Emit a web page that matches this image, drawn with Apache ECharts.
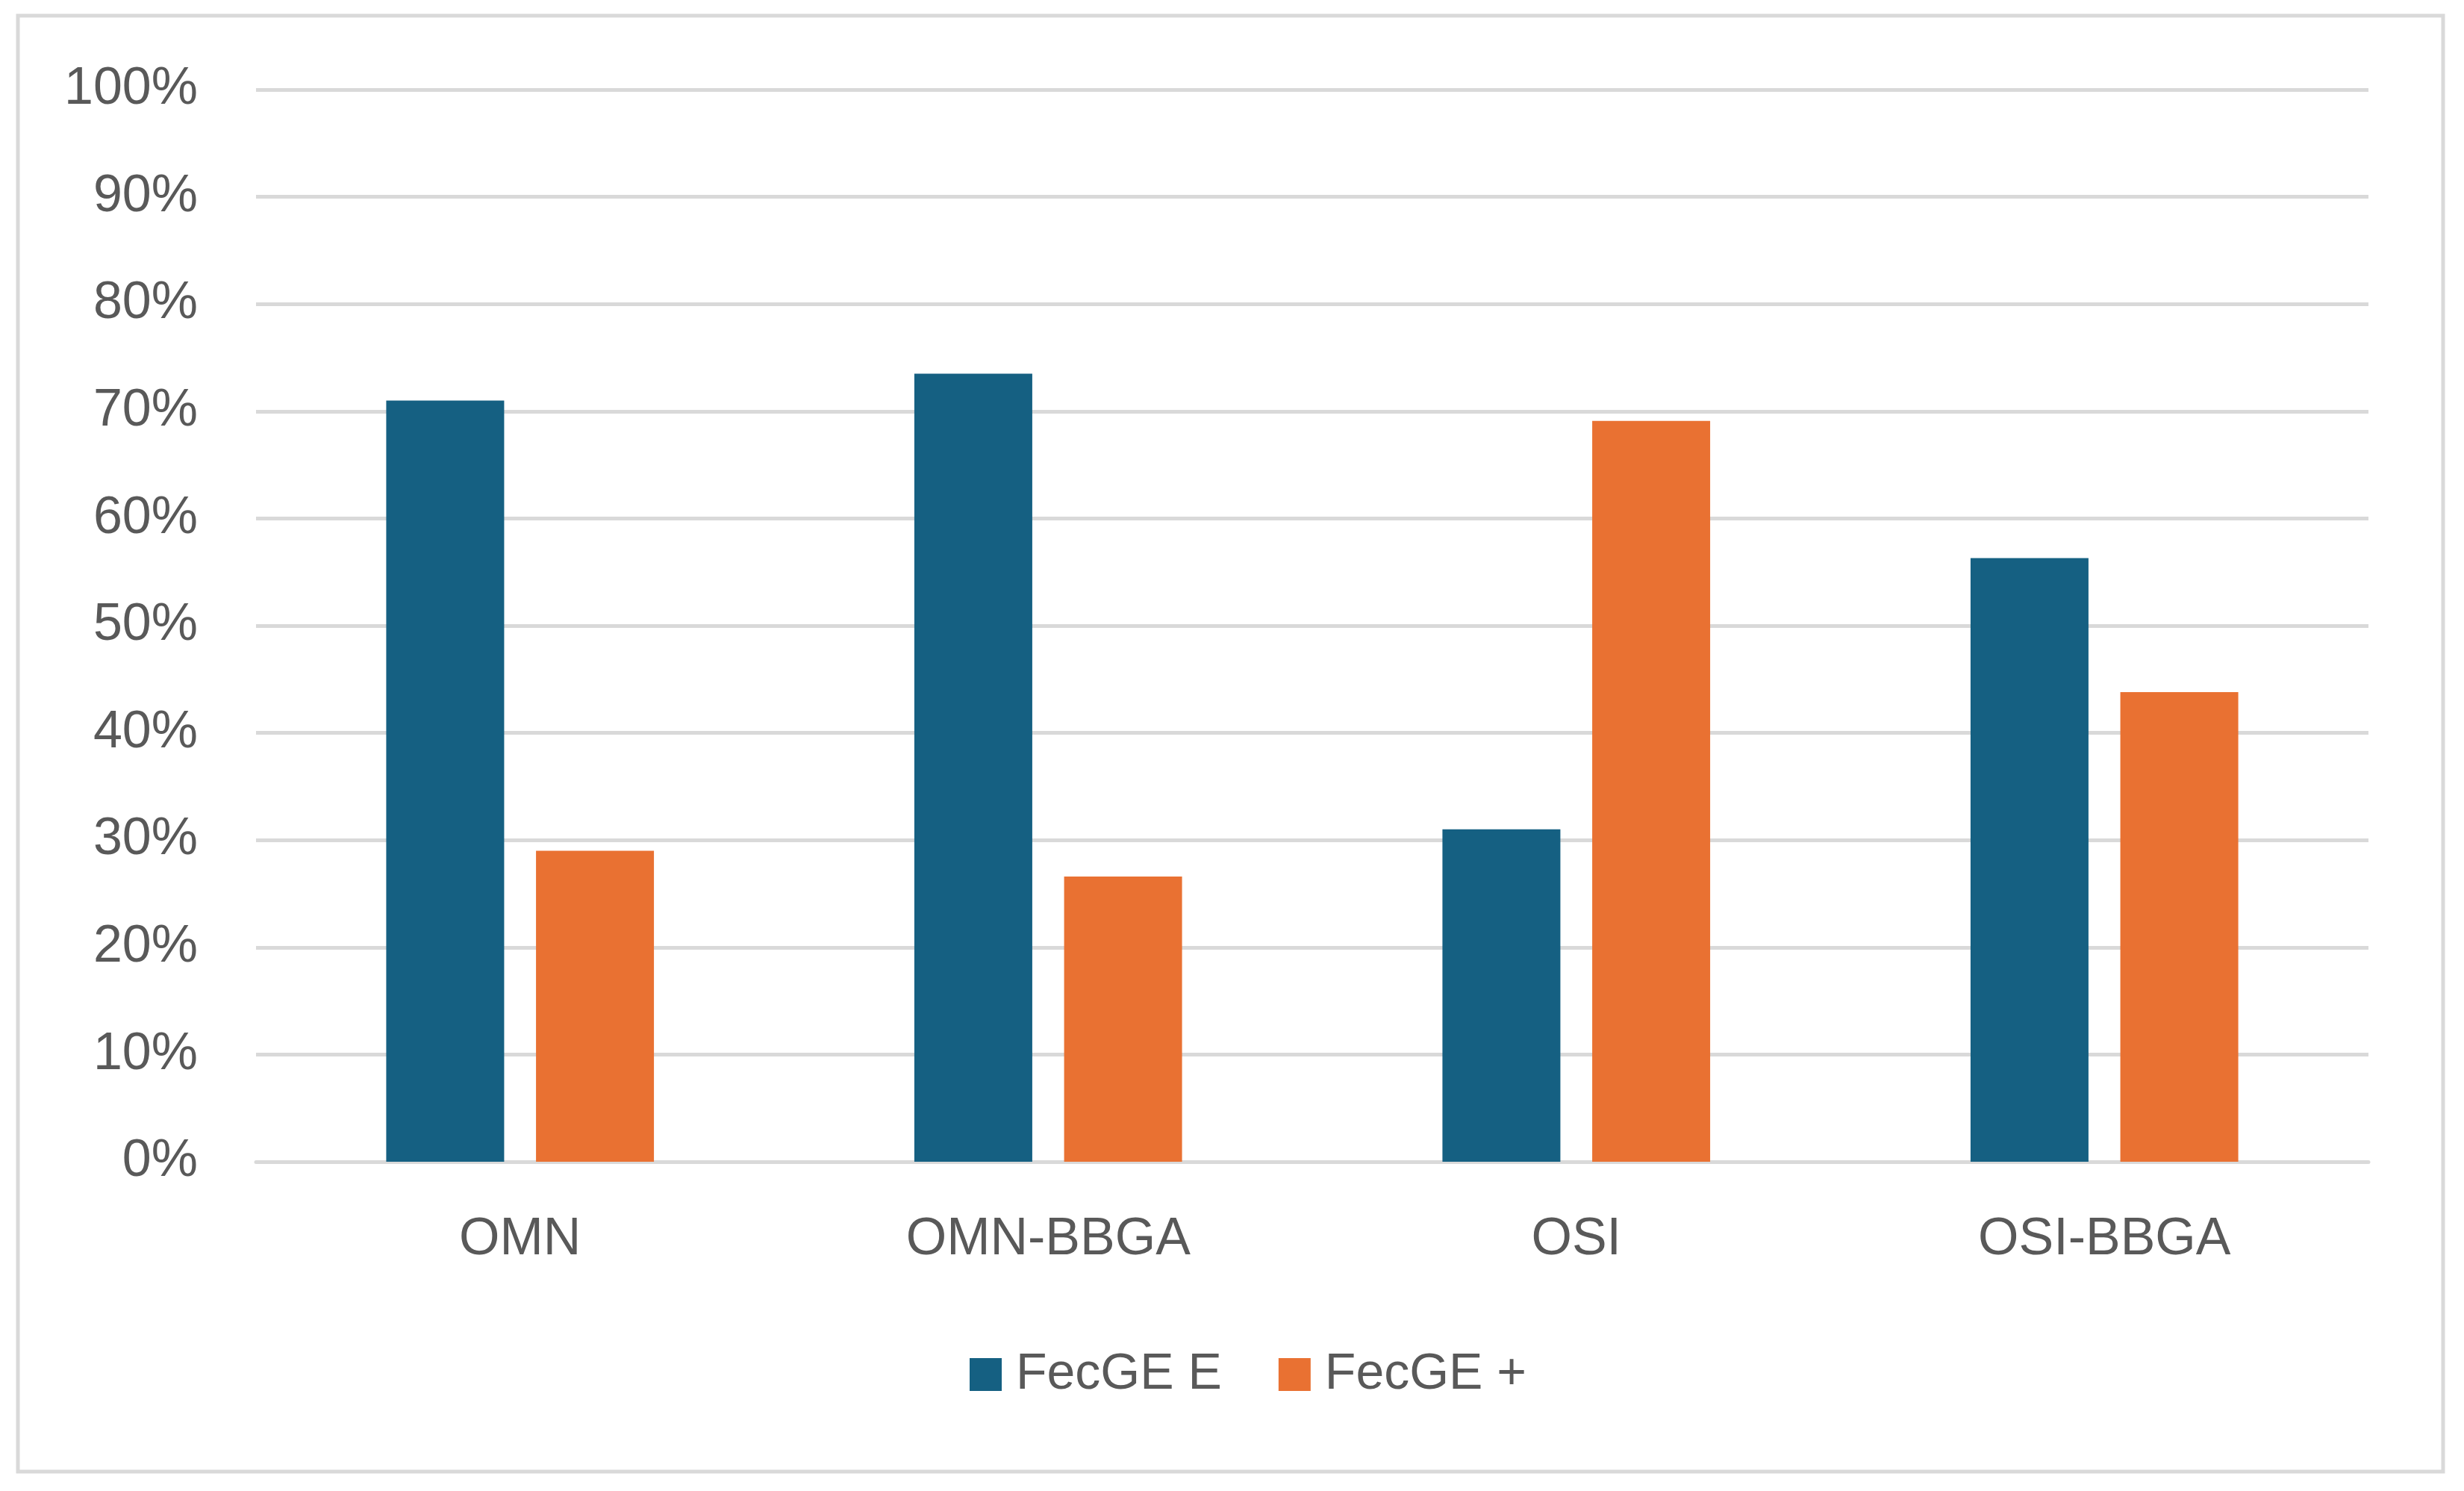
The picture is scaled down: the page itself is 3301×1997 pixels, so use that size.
<!DOCTYPE html>
<html>
<head>
<meta charset="utf-8">
<script src="https://cdn.jsdelivr.net/npm/echarts@6/dist/echarts.min.js"></script>
<style>
  html, body { margin: 0; padding: 0; background: #fff; }
  #main { width: 3301px; height: 1997px; }
</style>
</head>
<body>
<div id="main"></div>
<script>
  var categories = ["OMN", "OMN-BBGA", "OSI", "OSI-BBGA"];
  var seriesNames = ["FecGE E", "FecGE +"];
  var fecgeE = [71.0, 73.5, 31.0, 56.3];
  var fecgePlus = [29.0, 26.6, 69.1, 43.8];
  var yTicks = [0, 10, 20, 30, 40, 50, 60, 70, 80, 90, 100];

  var colors = ["#156082", "#E97132"];
  var textColor = "#595959";
  var gridColor = "#d9d9d9";
  var font = "'Liberation Sans', Arial, sans-serif";

  var mychart = echarts.init(document.getElementById("main"));

  var option = {
    backgroundColor: "#fff",
    animation: false,
    color: colors,
    graphic: [
      {
        type: "rect",
        shape: { x: 24, y: 21, width: 3249, height: 1950 },
        style: { fill: "none", stroke: gridColor, lineWidth: 5 }
      }
    ],
    grid: {
      left: 343,
      right: 128,
      top: 120,
      bottom: 441,
      containLabel: false
    },
    legend: {
      data: seriesNames,
      icon: "rect",
      left: 1294,
      top: 1802,
      itemWidth: 43,
      itemHeight: 44,
      itemGap: 76,
      textStyle: {
        color: textColor,
        fontSize: 68,
        fontFamily: font,
        padding: [0, 0, 0, 14]
      }
    },
    xAxis: [
      {
        type: "category",
        data: categories,
        axisTick: { show: false },
        axisLine: {
          show: true,
          lineStyle: { color: gridColor, width: 5 }
        },
        axisLabel: {
          color: textColor,
          fontSize: 70,
          fontFamily: font,
          margin: 70
        }
      }
    ],
    yAxis: [
      {
        type: "value",
        min: yTicks[0],
        max: yTicks[yTicks.length - 1],
        interval: yTicks[1] - yTicks[0],
        axisLine: { show: false },
        axisTick: { show: false },
        axisLabel: {
          color: textColor,
          fontSize: 70,
          fontFamily: font,
          margin: 78,
          formatter: "{value}%"
        },
        splitLine: {
          show: true,
          lineStyle: { color: gridColor, width: 5 }
        }
      }
    ],
    series: [
      {
        name: seriesNames[0],
        type: "bar",
        data: fecgeE,
        barWidth: 158,
        barGap: "27%",
        itemStyle: { color: colors[0] }
      },
      {
        name: seriesNames[1],
        type: "bar",
        data: fecgePlus,
        barWidth: 158,
        barGap: "27%",
        itemStyle: { color: colors[1] }
      }
    ]
  };

  mychart.setOption(option);
</script>
</body>
</html>
